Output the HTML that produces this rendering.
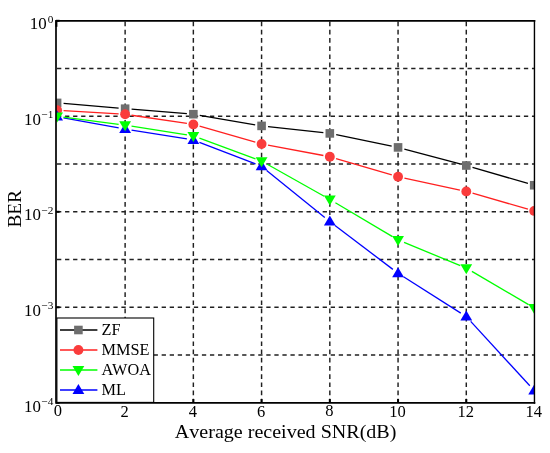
<!DOCTYPE html>
<html><head><meta charset="utf-8"><title>BER vs SNR</title>
<style>html,body{margin:0;padding:0;background:#fff}body{width:550px;height:453px;overflow:hidden}</style></head>
<body>
<svg width="550" height="453" viewBox="0 0 550 453" style="display:block;font-family:'Liberation Serif',serif;font-kerning:none">
<rect width="550" height="453" fill="#fff"/>
<defs><clipPath id="pc"><rect x="56.0" y="20.8" width="478.6" height="382.0"/></clipPath></defs>
<g stroke="#202020" stroke-width="1.45" fill="none"><line x1="125.12" y1="21.6" x2="125.12" y2="402.8" stroke-dasharray="4.7 3.5"/>
<line x1="193.35" y1="21.6" x2="193.35" y2="402.8" stroke-dasharray="4.7 3.5"/>
<line x1="261.58" y1="21.6" x2="261.58" y2="402.8" stroke-dasharray="4.7 3.5"/>
<line x1="329.82" y1="21.6" x2="329.82" y2="402.8" stroke-dasharray="4.7 3.5"/>
<line x1="398.06" y1="21.6" x2="398.06" y2="402.8" stroke-dasharray="4.7 3.5"/>
<line x1="466.29" y1="21.6" x2="466.29" y2="402.8" stroke-dasharray="4.7 3.5"/>
<line x1="57.0" y1="68.55" x2="534.6" y2="68.55" stroke-dasharray="4.3 3.75"/>
<line x1="57.0" y1="116.30" x2="534.6" y2="116.30" stroke-dasharray="4.3 3.75"/>
<line x1="57.0" y1="164.05" x2="534.6" y2="164.05" stroke-dasharray="4.3 3.75"/>
<line x1="57.0" y1="211.80" x2="534.6" y2="211.80" stroke-dasharray="4.3 3.75"/>
<line x1="57.0" y1="259.55" x2="534.6" y2="259.55" stroke-dasharray="4.3 3.75"/>
<line x1="57.0" y1="307.30" x2="534.6" y2="307.30" stroke-dasharray="4.3 3.75"/>
<line x1="57.0" y1="355.05" x2="534.6" y2="355.05" stroke-dasharray="4.3 3.75"/></g>
<g stroke="#000" stroke-width="2"><line x1="125.12" y1="402.8" x2="125.12" y2="399.0"/>
<line x1="193.35" y1="402.8" x2="193.35" y2="399.0"/>
<line x1="261.58" y1="402.8" x2="261.58" y2="399.0"/>
<line x1="329.82" y1="402.8" x2="329.82" y2="399.0"/>
<line x1="398.06" y1="402.8" x2="398.06" y2="399.0"/>
<line x1="466.29" y1="402.8" x2="466.29" y2="399.0"/>
<line x1="56.0" y1="20.80" x2="59.6" y2="20.80"/>
<line x1="56.0" y1="116.30" x2="59.6" y2="116.30"/>
<line x1="56.0" y1="211.80" x2="59.6" y2="211.80"/>
<line x1="56.0" y1="307.30" x2="59.6" y2="307.30"/>
<line x1="56.0" y1="402.80" x2="59.6" y2="402.80"/>
<line x1="56.4" y1="20.8" x2="56.4" y2="26.8"/></g>
<g clip-path="url(#pc)">
<line x1="63.58" y1="103.45" x2="118.64" y2="108.15" stroke="#000000" stroke-width="1.3"/>
<line x1="131.59" y1="109.22" x2="186.87" y2="113.68" stroke="#000000" stroke-width="1.3"/>
<line x1="199.76" y1="115.30" x2="255.18" y2="124.80" stroke="#000000" stroke-width="1.3"/>
<line x1="268.05" y1="126.61" x2="323.36" y2="132.69" stroke="#000000" stroke-width="1.3"/>
<line x1="336.19" y1="134.71" x2="391.69" y2="146.09" stroke="#000000" stroke-width="1.3"/>
<line x1="404.34" y1="149.07" x2="460.01" y2="163.83" stroke="#000000" stroke-width="1.3"/>
<line x1="472.53" y1="167.32" x2="527.96" y2="183.43" stroke="#000000" stroke-width="1.3"/>
<line x1="63.59" y1="110.59" x2="118.63" y2="113.91" stroke="#ff2020" stroke-width="1.3"/>
<line x1="131.54" y1="115.25" x2="186.92" y2="123.45" stroke="#ff2020" stroke-width="1.3"/>
<line x1="199.60" y1="126.19" x2="255.34" y2="142.21" stroke="#ff2020" stroke-width="1.3"/>
<line x1="267.98" y1="145.19" x2="323.43" y2="155.51" stroke="#ff2020" stroke-width="1.3"/>
<line x1="336.06" y1="158.54" x2="391.82" y2="174.96" stroke="#ff2020" stroke-width="1.3"/>
<line x1="404.41" y1="178.16" x2="459.93" y2="190.04" stroke="#ff2020" stroke-width="1.3"/>
<line x1="472.54" y1="193.19" x2="527.95" y2="209.11" stroke="#ff2020" stroke-width="1.3"/>
<line x1="63.50" y1="117.86" x2="118.72" y2="127.84" stroke="#0000ff" stroke-width="1.3"/>
<line x1="131.53" y1="130.03" x2="186.93" y2="138.97" stroke="#0000ff" stroke-width="1.3"/>
<line x1="199.42" y1="142.34" x2="255.52" y2="163.96" stroke="#0000ff" stroke-width="1.3"/>
<line x1="266.63" y1="170.39" x2="324.77" y2="217.51" stroke="#0000ff" stroke-width="1.3"/>
<line x1="335.00" y1="225.53" x2="392.87" y2="269.37" stroke="#0000ff" stroke-width="1.3"/>
<line x1="403.54" y1="276.78" x2="460.80" y2="313.12" stroke="#0000ff" stroke-width="1.3"/>
<line x1="470.68" y1="321.39" x2="529.81" y2="385.81" stroke="#0000ff" stroke-width="1.3"/>
<line x1="63.55" y1="117.13" x2="118.67" y2="124.27" stroke="#00ff00" stroke-width="1.3"/>
<line x1="131.54" y1="126.12" x2="186.93" y2="134.88" stroke="#00ff00" stroke-width="1.3"/>
<line x1="199.45" y1="138.15" x2="255.49" y2="158.85" stroke="#00ff00" stroke-width="1.3"/>
<line x1="267.25" y1="164.28" x2="324.15" y2="196.22" stroke="#00ff00" stroke-width="1.3"/>
<line x1="335.41" y1="202.72" x2="392.47" y2="236.58" stroke="#00ff00" stroke-width="1.3"/>
<line x1="404.06" y1="242.38" x2="460.28" y2="265.62" stroke="#00ff00" stroke-width="1.3"/>
<line x1="471.90" y1="271.39" x2="528.59" y2="304.61" stroke="#00ff00" stroke-width="1.3"/>
<rect x="52.80" y="98.60" width="8.60" height="8.60" fill="#6e6e6e"/>
<rect x="120.82" y="104.40" width="8.60" height="8.60" fill="#6e6e6e"/>
<rect x="189.05" y="109.90" width="8.60" height="8.60" fill="#6e6e6e"/>
<rect x="257.28" y="121.60" width="8.60" height="8.60" fill="#6e6e6e"/>
<rect x="325.52" y="129.10" width="8.60" height="8.60" fill="#6e6e6e"/>
<rect x="393.75" y="143.10" width="8.60" height="8.60" fill="#6e6e6e"/>
<rect x="461.99" y="161.20" width="8.60" height="8.60" fill="#6e6e6e"/>
<rect x="529.90" y="180.95" width="8.60" height="8.60" fill="#6e6e6e"/>
<circle cx="57.10" cy="110.20" r="4.95" fill="#fa3c3c"/>
<circle cx="125.12" cy="114.30" r="4.95" fill="#fa3c3c"/>
<circle cx="193.35" cy="124.40" r="4.95" fill="#fa3c3c"/>
<circle cx="261.58" cy="144.00" r="4.95" fill="#fa3c3c"/>
<circle cx="329.82" cy="156.70" r="4.95" fill="#fa3c3c"/>
<circle cx="398.06" cy="176.80" r="4.95" fill="#fa3c3c"/>
<circle cx="466.29" cy="191.40" r="4.95" fill="#fa3c3c"/>
<circle cx="534.20" cy="210.90" r="4.95" fill="#fa3c3c"/>
<polygon points="51.20,120.60 63.00,120.60 57.10,110.60" fill="#0000ff"/>
<polygon points="119.22,132.90 131.02,132.90 125.12,122.90" fill="#0000ff"/>
<polygon points="187.45,143.90 199.25,143.90 193.35,133.90" fill="#0000ff"/>
<polygon points="255.68,170.20 267.48,170.20 261.58,160.20" fill="#0000ff"/>
<polygon points="323.92,225.50 335.72,225.50 329.82,215.50" fill="#0000ff"/>
<polygon points="392.16,277.20 403.95,277.20 398.06,267.20" fill="#0000ff"/>
<polygon points="460.39,320.50 472.19,320.50 466.29,310.50" fill="#0000ff"/>
<polygon points="528.30,394.50 540.10,394.50 534.20,384.50" fill="#0000ff"/>
<polygon points="51.20,112.40 63.00,112.40 57.10,122.40" fill="#00ff00"/>
<polygon points="119.22,121.20 131.02,121.20 125.12,131.20" fill="#00ff00"/>
<polygon points="187.45,132.00 199.25,132.00 193.35,142.00" fill="#00ff00"/>
<polygon points="255.68,157.20 267.48,157.20 261.58,167.20" fill="#00ff00"/>
<polygon points="323.92,195.50 335.72,195.50 329.82,205.50" fill="#00ff00"/>
<polygon points="392.16,236.00 403.95,236.00 398.06,246.00" fill="#00ff00"/>
<polygon points="460.39,264.20 472.19,264.20 466.29,274.20" fill="#00ff00"/>
<polygon points="528.30,304.00 540.10,304.00 534.20,314.00" fill="#00ff00"/>
</g>
<rect x="56.9" y="318" width="96.8" height="84.4" fill="#fff" stroke="#000" stroke-width="1.1"/>
<line x1="60" y1="330" x2="97.4" y2="330" stroke="#000000" stroke-width="1.3"/>
<rect x="74.10" y="325.70" width="8.60" height="8.60" fill="#6e6e6e"/>
<text transform="translate(101.60 335.10) scale(1.0 1)" font-size="16.3" text-anchor="start">ZF</text>
<line x1="60" y1="350" x2="97.4" y2="350" stroke="#ff2020" stroke-width="1.3"/>
<circle cx="78.40" cy="350.00" r="4.95" fill="#fa3c3c"/>
<text transform="translate(101.60 355.10) scale(1.0 1)" font-size="16.3" text-anchor="start">MMSE</text>
<line x1="60" y1="370" x2="97.4" y2="370" stroke="#00ff00" stroke-width="1.3"/>
<polygon points="72.50,366.10 84.30,366.10 78.40,376.10" fill="#00ff00"/>
<text style="font-kerning:normal" transform="translate(101.60 375.10) scale(1.0 1)" font-size="16.3" text-anchor="start">AWOA</text>
<line x1="60" y1="390" x2="97.4" y2="390" stroke="#0000ff" stroke-width="1.3"/>
<polygon points="72.50,393.90 84.30,393.90 78.40,383.90" fill="#0000ff"/>
<text transform="translate(101.60 395.10) scale(1.0 1)" font-size="16.3" text-anchor="start">ML</text>
<g stroke="#000" fill="none"><path d="M534.45 20.8 H56.0 V402.8 H534.45" stroke-width="1.7" stroke-linejoin="miter" stroke-linecap="square"/><line x1="534.45" y1="19.95" x2="534.45" y2="403.65000000000003" stroke-width="1.4"/></g>
<text transform="translate(57.80 415.70) scale(1 1)" font-size="16.5" text-anchor="middle">0</text>
<text transform="translate(124.62 417.20) scale(1 1)" font-size="16.5" text-anchor="middle">2</text>
<text transform="translate(192.85 417.20) scale(1 1)" font-size="16.5" text-anchor="middle">4</text>
<text transform="translate(261.08 417.20) scale(1 1)" font-size="16.5" text-anchor="middle">6</text>
<text transform="translate(329.32 416.40) scale(1 1)" font-size="16.5" text-anchor="middle">8</text>
<text transform="translate(397.56 417.20) scale(1 1)" font-size="16.5" text-anchor="middle">10</text>
<text transform="translate(465.79 417.20) scale(1 1)" font-size="16.5" text-anchor="middle">12</text>
<text transform="translate(533.70 417.20) scale(1 1)" font-size="16.5" text-anchor="middle">14</text>
<text transform="translate(46.60 29.10) scale(0.97 1)" font-size="17.4" text-anchor="end">10</text>
<text transform="translate(53.40 22.70) scale(1 1)" font-size="11.3" text-anchor="end">0</text>
<text transform="translate(40.90 124.60) scale(0.97 1)" font-size="17.4" text-anchor="end">10</text>
<text transform="translate(53.40 118.20) scale(1 1)" font-size="11.3" text-anchor="end">−1</text>
<text transform="translate(40.90 220.10) scale(0.97 1)" font-size="17.4" text-anchor="end">10</text>
<text transform="translate(53.40 213.70) scale(1 1)" font-size="11.3" text-anchor="end">−2</text>
<text transform="translate(40.90 315.60) scale(0.97 1)" font-size="17.4" text-anchor="end">10</text>
<text transform="translate(53.40 309.20) scale(1 1)" font-size="11.3" text-anchor="end">−3</text>
<text transform="translate(40.90 411.70) scale(0.97 1)" font-size="17.4" text-anchor="end">10</text>
<text transform="translate(53.40 404.70) scale(1 1)" font-size="11.3" text-anchor="end">−4</text>
<text transform="translate(174.80 437.80) scale(1.045 1)" font-size="19.2" text-anchor="start">Average received SNR(dB)</text>
<text transform="translate(21.3 227.6) rotate(-90) scale(1.0 1)" font-size="19.3">BER</text>
</svg>
</body></html>
